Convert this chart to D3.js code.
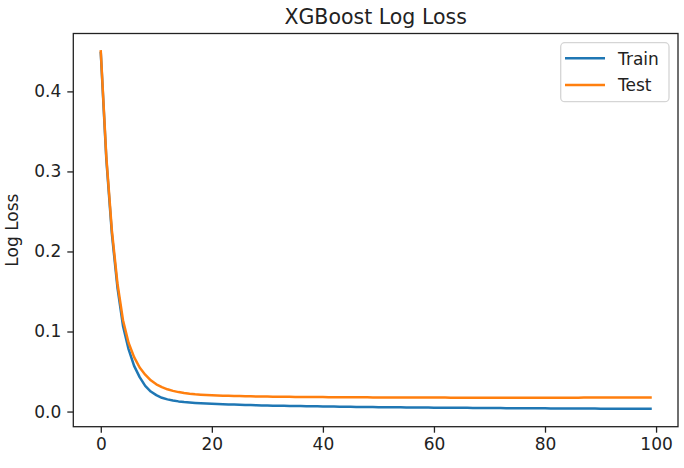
<!DOCTYPE html>
<html>
<head>
<meta charset="utf-8">
<script src="https://cdn.jsdelivr.net/npm/d3@7"></script>
<style>
  body { margin: 0; background: #fff; }
  svg { display: block; font-family: "DejaVu Sans", sans-serif; }
</style>
</head>
<body>
<div id="chart"></div>
<script>
// log loss per boosting round
let train = [
  0.448, 0.315, 0.222, 0.155, 0.107, 0.078, 0.057, 0.043, 0.032, 0.025,
  0.0205, 0.0172, 0.0152, 0.0138, 0.0127, 0.0119, 0.0113, 0.0108, 0.0104, 0.0100,
  0.0097, 0.0094, 0.0091, 0.0089, 0.0087, 0.0085, 0.0083, 0.0081, 0.0079, 0.0077,
  0.0076, 0.0074, 0.0073, 0.0072, 0.0070, 0.0069, 0.0068, 0.0067, 0.0066, 0.0065,
  0.0064, 0.0063, 0.0062, 0.0061, 0.0060, 0.0059, 0.0058, 0.0058, 0.0057, 0.0056,
  0.0055, 0.0055, 0.0054, 0.0053, 0.0053, 0.0052, 0.0051, 0.0051, 0.0050, 0.0050,
  0.0049, 0.0048, 0.0048, 0.0047, 0.0047, 0.0046, 0.0046, 0.0045, 0.0045, 0.0044,
  0.0044, 0.0043, 0.0043, 0.0042, 0.0042, 0.0042, 0.0041, 0.0041, 0.0040, 0.0040,
  0.0040, 0.0039, 0.0039, 0.0039, 0.0038, 0.0038, 0.0038, 0.0037, 0.0037, 0.0037,
  0.0036, 0.0036, 0.0036, 0.0036, 0.0035, 0.0035, 0.0035, 0.0035, 0.0034, 0.0034
]

let test = [
  0.450, 0.318, 0.226, 0.160, 0.114, 0.086, 0.068, 0.055, 0.046, 0.039,
  0.034, 0.0305, 0.0278, 0.0258, 0.0243, 0.0232, 0.0223, 0.0216, 0.0211, 0.0207,
  0.0203, 0.0200, 0.0198, 0.0196, 0.0194, 0.0193, 0.0191, 0.0190, 0.0189, 0.0188,
  0.0187, 0.0186, 0.0185, 0.0185, 0.0184, 0.0183, 0.0183, 0.0182, 0.0182, 0.0181,
  0.0181, 0.0180, 0.0180, 0.0179, 0.0179, 0.0179, 0.0178, 0.0178, 0.0178, 0.0177,
  0.0177, 0.0177, 0.0176, 0.0176, 0.0176, 0.0175, 0.0175, 0.0175, 0.0175, 0.0174,
  0.0174, 0.0174, 0.0174, 0.0173, 0.0173, 0.0173, 0.0173, 0.0173, 0.0172, 0.0172,
  0.0172, 0.0172, 0.0172, 0.0172, 0.0172, 0.0172, 0.0172, 0.0172, 0.0172, 0.0172,
  0.0172, 0.0173, 0.0173, 0.0173, 0.0173, 0.0173, 0.0173, 0.0174, 0.0174, 0.0174,
  0.0174, 0.0174, 0.0174, 0.0175, 0.0175, 0.0175, 0.0175, 0.0175, 0.0176, 0.0176
]

let xTicks = [0, 20, 40, 60, 80, 100]
let yTicks = [0.0, 0.1, 0.2, 0.3, 0.4]
let seriesNames = ["Train", "Test"]
let colors = ["#1f77b4", "#ff7f0e"]

let width = 684
let height = 468
let margin = { top: 33.5, right: 6, bottom: 41.3, left: 73.3 }

let epochs = d3.range(train.length)

// matplotlib style 5% margins
let pad = (lo, hi) => [lo - (hi - lo) * 0.05, hi + (hi - lo) * 0.05]
let xDom = pad(0, train.length - 1)
let allVals = train.concat(test)
let yDom = pad(d3.min(allVals), d3.max(allVals))

let x = d3.scaleLinear()
    .domain(xDom)
    .range([margin.left, width - margin.right])

let y = d3.scaleLinear()
    .domain(yDom)
    .range([height - margin.bottom, margin.top])

let svg = d3.select('#chart')
    .append('svg')
    .attr('width', width)
    .attr('height', height)

// lines
let line = d3.line()
    .x((d, i) => x(epochs[i]))
    .y(d => y(d))

;[train, test].forEach((s, k) => {
  svg.append('path')
      .attr('d', line(s))
      .attr('fill', 'none')
      .attr('stroke', colors[k])
      .attr('stroke-width', 2.5)
      .attr('stroke-linejoin', 'round')
      .attr('stroke-linecap', 'square')
})

// axes
let xAxis = d3.axisBottom(x).tickValues(xTicks).tickSize(6).tickPadding(5)
    .tickFormat(d3.format('d'))
let yAxis = d3.axisLeft(y).tickValues(yTicks).tickSize(6).tickPadding(6)
    .tickFormat(d3.format('.1f'))

let gx = svg.append('g')
    .attr('transform', `translate(0,${height - margin.bottom})`)
    .call(xAxis)
let gy = svg.append('g')
    .attr('transform', `translate(${margin.left},0)`)
    .call(yAxis)

;[gx, gy].forEach(g => {
  g.select('.domain').remove()
  g.selectAll('.tick line').attr('stroke', '#222').attr('stroke-width', 1.3)
  g.selectAll('.tick text')
      .attr('fill', '#222')
      .attr('font-size', '17px')
      .attr('font-family', '"DejaVu Sans", sans-serif')
})

// frame
svg.append('rect')
    .attr('x', margin.left)
    .attr('y', margin.top)
    .attr('width', width - margin.right - margin.left)
    .attr('height', height - margin.bottom - margin.top)
    .attr('fill', 'none')
    .attr('stroke', '#222')
    .attr('stroke-width', 1.3)

// title and label
svg.append('text')
    .attr('x', (margin.left + width - margin.right) / 2)
    .attr('y', 24)
    .attr('text-anchor', 'middle')
    .attr('font-size', '20.5px')
    .attr('fill', '#222')
    .text('XGBoost Log Loss')

svg.append('text')
    .attr('transform', `translate(18,${(margin.top + height - margin.bottom) / 2}) rotate(-90)`)
    .attr('text-anchor', 'middle')
    .attr('font-size', '17px')
    .attr('fill', '#222')
    .text('Log Loss')

// legend
let lg = svg.append('g')
lg.append('rect')
    .attr('x', 560.7)
    .attr('y', 42.7)
    .attr('width', 108.3)
    .attr('height', 59)
    .attr('rx', 4)
    .attr('fill', '#fff')
    .attr('fill-opacity', 0.8)
    .attr('stroke', '#d5d5d5')
    .attr('stroke-width', 1.3)

let item = lg.selectAll('.item')
    .data(seriesNames)
    .enter().append('g')
    .attr('class', 'item')
    .attr('transform', (d, i) => `translate(565,${58.3 + i * 26.7})`)

item.append('line')
    .attr('x1', 0)
    .attr('x2', 40)
    .attr('stroke', (d, i) => colors[i])
    .attr('stroke-width', 2.5)

item.append('text')
    .attr('x', 53)
    .attr('y', 6.3)
    .attr('font-size', '17px')
    .attr('fill', '#222')
    .text(d => d)
</script>
</body>
</html>
